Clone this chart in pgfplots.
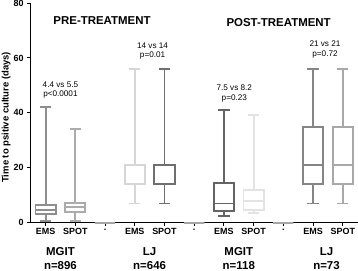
\documentclass[border=0pt]{standalone}
\usepackage{fontspec}
\setmainfont{Liberation Sans}
\usepackage{pgfplots}
\pgfplotsset{compat=1.18}
\usepgfplotslibrary{statistics}
\definecolor{cA}{HTML}{8E8E8E}
\definecolor{cB}{HTML}{ABABAB}
\definecolor{cC}{HTML}{D6D6D6}
\definecolor{cD}{HTML}{6F6F6F}
\definecolor{cE}{HTML}{646464}
\definecolor{cF}{HTML}{E3E3E3}
\definecolor{cG}{HTML}{858585}
\definecolor{cH}{HTML}{A8A8A8}
\definecolor{cDot}{HTML}{A6A6A6}
\pgfplotsset{bx/.style={line width=1.9pt, fill=white, solid, boxplot/draw direction=y}}
\begin{document}
\begin{tikzpicture}
\begin{axis}[
  set layers,
  scale only axis, width=327bp, height=219.7bp,
  xmin=-0.5, xmax=10.5, ymin=0, ymax=80,
  axis x line=bottom, axis y line=left,
  axis line style={-, line width=1.6pt, black},
  clip=false,
  xtick={0,...,10},
  xticklabels={EMS,SPOT,.,EMS,SPOT,.,EMS,SPOT,.,EMS,SPOT},
  ytick={0,20,40,60,80},
  tick align=outside, major tick length=3.5bp,
  tick style={black, line width=1pt},
  /pgf/number format/assume math mode=true,
  ticklabel style={font=\bfseries\fontsize{9}{10}\selectfont},
  xticklabel style={yshift=1bp},
  ylabel={Time to psitive culture (days)},
  every axis y label/.style={at={(rel axis cs:0,0.48)}, xshift=-24.5bp, rotate=90, anchor=center, font=\bfseries\fontsize{9.5}{11}\selectfont},
  boxplot/box extend=0.68,
  boxplot/whisker extend=0.38,
]
% PRE-TREATMENT
\addplot[bx, draw=cA, boxplot prepared={draw position=0, lower whisker=0.6, lower quartile=3.2, median=4.5, upper quartile=6.3, upper whisker=42}] coordinates {};
\addplot[bx, draw=cB, boxplot prepared={draw position=1, lower whisker=0.6, lower quartile=4.0, median=5.8, upper quartile=7.3, upper whisker=34}] coordinates {};
\addplot[bx, draw=cDot, on layer=axis foreground, boxplot prepared={draw position=2, lower whisker=0, lower quartile=0, median=0, upper quartile=0, upper whisker=0}] coordinates {};
\addplot[bx, draw=cC, boxplot prepared={draw position=3, lower whisker=7, lower quartile=14, median=14, upper quartile=21, upper whisker=56}] coordinates {};
\addplot[bx, draw=cD, boxplot prepared={draw position=4, lower whisker=7, lower quartile=14, median=14, upper quartile=21, upper whisker=56}] coordinates {};
\addplot[bx, draw=cDot, on layer=axis foreground, boxplot prepared={draw position=5, lower whisker=0, lower quartile=0, median=0, upper quartile=0, upper whisker=0}] coordinates {};
% POST-TREATMENT
\addplot[bx, draw=cE, boxplot prepared={draw position=6, lower whisker=2.5, lower quartile=4.3, median=7.0, upper quartile=14.3, upper whisker=41}] coordinates {};
\addplot[bx, draw=cF, boxplot prepared={draw position=7, lower whisker=3.6, lower quartile=4.6, median=8.0, upper quartile=11.9, upper whisker=39.2}] coordinates {};
\addplot[bx, draw=cDot, on layer=axis foreground, boxplot prepared={draw position=8, lower whisker=0, lower quartile=0, median=0, upper quartile=0, upper whisker=0}] coordinates {};
\addplot[bx, draw=cG, boxplot prepared={draw position=9, lower whisker=7, lower quartile=14, median=21, upper quartile=35, upper whisker=56}] coordinates {};
\addplot[bx, draw=cH, boxplot prepared={draw position=10, lower whisker=7, lower quartile=14, median=21, upper quartile=35, upper whisker=56}] coordinates {};

\coordinate (O) at (rel axis cs:0,0);
% titles
\node[font=\bfseries\fontsize{11.5}{13}\selectfont] at (axis cs:1.9,73.5) {PRE-TREATMENT};
\node[font=\bfseries\fontsize{11.5}{13}\selectfont] at (axis cs:7.84,72.8) {POST-TREATMENT};
% annotations
\node[font=\fontsize{8.2}{9.5}\selectfont, align=center] at (axis cs:0.5,48.3) {4.4 vs 5.5\\p<0.0001};
\node[font=\fontsize{8.2}{9.5}\selectfont, align=center] at (axis cs:3.6,62.5) {14 vs 14\\p=0.01};
\node[font=\fontsize{8.2}{9.5}\selectfont, align=center] at (axis cs:6.35,47.0) {7.5 vs 8.2\\p=0.23};
\node[font=\fontsize{8.2}{9.5}\selectfont, align=center] at (axis cs:9.4,63.0) {21 vs 21\\p=0.72};
% group labels
\node[font=\bfseries\fontsize{11.5}{13.5}\selectfont, align=center] at (axis cs:0.5,0) [yshift=-36bp] {MGIT\\n=896};
\node[font=\bfseries\fontsize{11.5}{13.5}\selectfont, align=center] at (axis cs:3.5,0) [yshift=-36bp] {LJ\\n=646};
\node[font=\bfseries\fontsize{11.5}{13.5}\selectfont, align=center] at (axis cs:6.5,0) [yshift=-36bp] {MGIT\\n=118};
\node[font=\bfseries\fontsize{11.5}{13.5}\selectfont, align=center] at (axis cs:9.45,0) [yshift=-36bp] {LJ\\n=73};
\end{axis}
\pgfresetboundingbox
\path[use as bounding box] ([shift={(-30.7bp,-48.3bp)}]O) rectangle ([shift={(327.3bp,222.7bp)}]O);
\end{tikzpicture}
\end{document}
